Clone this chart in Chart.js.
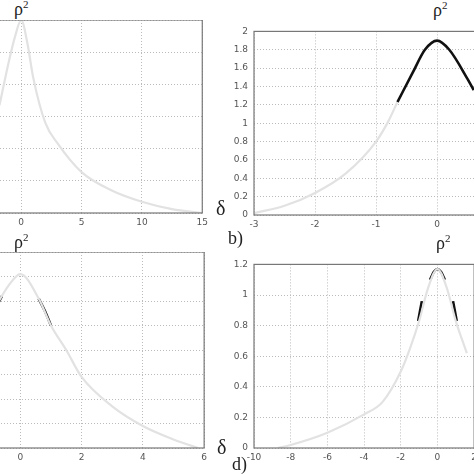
<!DOCTYPE html>
<html>
<head>
<meta charset="utf-8">
<script src="https://cdn.jsdelivr.net/npm/chart.js@4/dist/chart.umd.min.js"></script>
<style>
  html, body { margin: 0; padding: 0; background: #fff; }
  #page { position: relative; width: 474px; height: 474px; overflow: hidden; background: #fff; }
  .panel { position: absolute; }
  .lbl { position: absolute; font-family: "Liberation Serif", "DejaVu Serif", serif; color: #222; font-size: 18px; line-height: 1; }
</style>
</head>
<body>
<div id="page">
  <div class="panel" style="left:-45px;top:20px;width:257px;height:213px"><canvas id="ca"></canvas></div>
  <div class="panel" style="left:224px;top:20px;width:281px;height:215px"><canvas id="cb"></canvas></div>
  <div class="panel" style="left:-71px;top:252px;width:282px;height:216px"><canvas id="cc"></canvas></div>
  <div class="panel" style="left:224px;top:253px;width:257px;height:215px"><canvas id="cd"></canvas></div>

  <div class="lbl" style="left:14px;top:-1px">ρ<sup style="font-size:11px">2</sup></div>
  <div class="lbl" style="left:433px;top:0px">ρ<sup style="font-size:11px">2</sup></div>
  <div class="lbl" style="left:14px;top:232px">ρ<sup style="font-size:11px">2</sup></div>
  <div class="lbl" style="left:436px;top:233px">ρ<sup style="font-size:11px">2</sup></div>
  <div class="lbl" style="left:216px;top:198px;font-size:20px">δ</div>
  <div class="lbl" style="left:217px;top:437px;font-size:20px">δ</div>
  <div class="lbl" style="left:228px;top:229px">b)</div>
  <div class="lbl" style="left:232px;top:455px">d)</div>
</div>
<script>
// panel a
const aX = [-1.8, -1, -0.5, 0, 0.5, 1, 2, 3, 5, 7.5, 10, 12.5, 15];
const aY = [3.35, 4.75, 5.5, 6, 5.3, 4.2, 2.8, 2.17, 1.27, 0.7, 0.35, 0.12, 0];

// panel b
const bGrayX = [-3, -2.5, -2, -1.5, -1, -0.8, -0.65];
const bGrayY = [0.02, 0.1, 0.24, 0.45, 0.8, 1.02, 1.23];
const bBlackX = [-0.65, -0.4, -0.2, 0, 0.2, 0.5, 0.6];
const bBlackY = [1.23, 1.55, 1.8, 1.9, 1.8, 1.48, 1.36];

// panel c
const cX = [-0.7, -0.4, 0, 0.6, 1, 1.5, 2, 3, 4, 5, 5.8];
const cY = [6.0, 6.6, 7.1, 6.1, 5.0, 4.0, 2.9, 1.7, 0.9, 0.35, 0];
const cBlackX = [[-0.75, -0.6], [0.6, 0.8, 1.0]];
const cBlackY = [[5.85, 6.2], [6.1, 5.6, 5.0]];

// panel d
const dX = [-8.7, -8, -6, -4, -3, -2, -1.5, -1, -0.5, 0, 0.5, 1, 1.6];
const dY = [0, 0.02, 0.1, 0.22, 0.3, 0.5, 0.65, 0.83, 1.05, 1.17, 1.05, 0.83, 0.62];
const dBlackX = [[-1.05, -0.85], [-0.4, -0.2, 0, 0.2, 0.4], [0.85, 1.05]];
const dBlackY = [[0.83, 0.96], [1.1, 1.15, 1.17, 1.15, 1.1], [0.96, 0.83]];

const pts = (xs, ys) => xs.map((x, i) => ({ x: x, y: ys[i] }));
const grayLine = (xs, ys) => ({ data: pts(xs, ys), borderColor: '#e2e2e2', borderWidth: 2.2, pointRadius: 0, showLine: true, cubicInterpolationMode: 'monotone' });
const blackLine = (xs, ys) => ({ data: pts(xs, ys), borderColor: '#111', borderWidth: 2.6, pointRadius: 0, showLine: true, cubicInterpolationMode: 'monotone' });

const framePlugin = {
  id: 'frame',
  afterDraw(chart) {
    const a = chart.chartArea, c = chart.ctx;
    c.save();
    c.strokeStyle = '#777';
    c.lineWidth = 1.2;
    c.strokeRect(a.left, a.top, a.right - a.left, a.bottom - a.top);
    c.restore();
  }
};

function makeChart(id, datasets, xmin, xmax, xstep, ymin, ymax, ystep, showY) {
  new Chart(document.getElementById(id), {
    type: 'scatter',
    data: { datasets: datasets },
    options: {
      animation: false,
      responsive: true,
      maintainAspectRatio: false,
      layout: { padding: 0 },
      plugins: { legend: { display: false }, tooltip: { enabled: false } },
      scales: {
        x: {
          min: xmin, max: xmax,
          afterFit: s => { s.height = 20; },
          ticks: { stepSize: xstep, color: '#555', font: { size: 9, family: 'DejaVu Sans' }, padding: 4, maxRotation: 0 },
          grid: { color: '#bbb', drawTicks: false },
          border: { display: false, dash: [1, 2] }
        },
        y: {
          min: ymin, max: ymax,
          afterFit: s => { s.width = 30; },
          ticks: {
            display: showY, stepSize: ystep, color: '#555', font: { size: 9, family: 'DejaVu Sans' }, padding: 6,
            callback: v => String(Math.round(v * 10) / 10)
          },
          grid: { color: '#bbb', drawTicks: false },
          border: { display: false, dash: [1, 2] }
        }
      }
    },
    plugins: [framePlugin]
  });
}

makeChart('ca', [grayLine(aX, aY)], -3, 15, 5, 0, 6, 1, false);
makeChart('cb', [grayLine(bGrayX, bGrayY), blackLine(bBlackX, bBlackY)], -3, 1, 1, 0, 2, 0.2, true);
makeChart('cc', [grayLine(cX, cY)].concat(cBlackX.map((xs, i) => blackLine(xs, cBlackY[i]))), -2, 6, 2, 0, 8, 1, false);
makeChart('cd', [grayLine(dX, dY)].concat(dBlackX.map((xs, i) => blackLine(xs, dBlackY[i]))), -10, 2, 2, 0, 1.2, 0.2, true);
</script>
</body>
</html>
